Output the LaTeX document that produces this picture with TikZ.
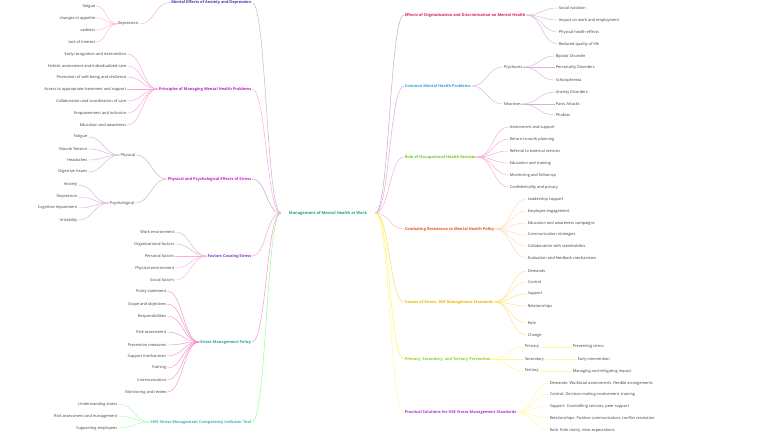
\documentclass[tikz,border=0pt]{standalone}
\usepackage{fontspec}
\setmainfont{Open Sans}
\usetikzlibrary{calc}
\def\mlink[#1](#2)(#3){\draw[wire,#1] let \p1=(#2), \p2=(#3) in (\p1) .. controls ({(\x1+\x2)/2},\y1) and ({(\x1+\x2)/2},\y2) .. (\p2);}

\definecolor{cRoot}{HTML}{1E9E84}
\definecolor{cMent}{HTML}{3A3AA6}
\definecolor{cPrin}{HTML}{B81FC4}
\definecolor{cPhys}{HTML}{C21FC2}
\definecolor{cFact}{HTML}{7A32C4}
\definecolor{cPol}{HTML}{2AA2A2}
\definecolor{cHse}{HTML}{3CB2B6}
\definecolor{cStig}{HTML}{D41C6E}
\definecolor{cCom}{HTML}{2E9FD4}
\definecolor{cOcc}{HTML}{6CC41E}
\definecolor{cRes}{HTML}{E2521E}
\definecolor{cCau}{HTML}{E6B400}
\definecolor{cPre}{HTML}{84D21C}
\definecolor{cSol}{HTML}{A834C4}

\tikzset{
	leaf/.style={font=\fontsize{3.9}{4}\selectfont, text=black!75, inner sep=0.6pt},
	lft/.style={leaf, anchor=east},
	rgt/.style={leaf, anchor=west},
	topic/.style={font=\fontsize{3.9}{4}\selectfont\bfseries, inner sep=0.6pt},
	wire/.style={line width=0.45pt},
}

\begin{document}
\begin{tikzpicture}[x=1pt,y=-1pt]
				\useasboundingbox (0,0) rectangle (768,433);
				
				\node[font=\fontsize{4}{4}\selectfont\bfseries, text=cRoot, inner xsep=8pt, inner ysep=2pt] (root) at (328,213) {Management of Mental Health at Work};
				
				% left side
				\node[topic, anchor=east, text=cMent] (ment) at (252,2.5) {Mental Effects of Anxiety and Depression};
				\node[topic, anchor=east, text=cPrin] (prin) at (252,89) {Principles of Managing Mental Health Problems};
				\node[topic, anchor=east, text=cPhys] (phys) at (252,179) {Physical and Psychological Effects of Stress};
				\node[topic, anchor=east, text=cFact] (fact) at (252,256) {Factors Causing Stress};
				\node[topic, anchor=east, text=cPol] (pol) at (252,342) {Stress Management Policy};
				\node[topic, anchor=east, text=cHse] (hse) at (252,422) {HSE Stress Management Competency Indicator Tool};
				\mlink[draw=violet!35](root.west)(ment.east)
				\mlink[draw=magenta!35](root.west)(prin.east)
				\mlink[draw=violet!40](root.west)(phys.east)
				\mlink[draw=magenta!40](root.west)(fact.east)
				\mlink[draw=magenta!45](root.west)(pol.east)
				\mlink[draw=green!45](root.west)(hse.east)
				
				\node[lft] (dep) at (139,24) {Depression};
				\mlink[draw=magenta!35](ment.west)(dep.east)
				\node[lft] (dep1) at (96,6) {fatigue};
				\node[lft] (dep2) at (96,18) {changes in appetite};
				\node[lft] (dep3) at (96,30) {sadness};
				\node[lft] (dep4) at (96,42) {lack of interest};
				\mlink[draw=magenta!30](dep.west)(dep1.east)
				\mlink[draw=magenta!30](dep.west)(dep2.east)
				\mlink[draw=magenta!30](dep.west)(dep3.east)
				\mlink[draw=magenta!30](dep.west)(dep4.east)
				
				\node[lft] (prin1) at (127,54) {Early recognition and intervention};
				\node[lft] (prin2) at (127,66) {Holistic assessment and individualized care};
				\node[lft] (prin3) at (127,77) {Promotion of well-being and resilience};
				\node[lft] (prin4) at (127,89) {Access to appropriate treatment and support};
				\node[lft] (prin5) at (127,101) {Collaboration and coordination of care};
				\node[lft] (prin6) at (127,113) {Empowerment and inclusion};
				\node[lft] (prin7) at (127,125) {Education and awareness};
				\mlink[draw=magenta!35](prin.west)(prin1.east)
				\mlink[draw=magenta!35](prin.west)(prin2.east)
				\mlink[draw=magenta!35](prin.west)(prin3.east)
				\mlink[draw=magenta!35](prin.west)(prin4.east)
				\mlink[draw=magenta!35](prin.west)(prin5.east)
				\mlink[draw=magenta!35](prin.west)(prin6.east)
				\mlink[draw=magenta!35](prin.west)(prin7.east)
				
				\node[lft] (body) at (136,155) {Physical};
				\node[lft] (mind) at (135,203) {Psychological};
				\mlink[draw=violet!35](phys.west)(body.east)
				\mlink[draw=violet!35](phys.west)(mind.east)
				\node[lft] (body1) at (88,137) {Fatigue};
				\node[lft] (body2) at (88,149) {Muscle Tension};
				\node[lft] (body3) at (88,160) {Headaches};
				\node[lft] (body4) at (88,172) {Digestive Issues};
				\node[lft] (mind1) at (78,185) {Anxiety};
				\node[lft] (mind2) at (78,197) {Depression};
				\node[lft] (mind3) at (78,208) {Cognitive Impairment};
				\node[lft] (mind4) at (78,220) {Irritability};
				\mlink[draw=violet!30](body.west)(body1.east)
				\mlink[draw=violet!30](body.west)(body2.east)
				\mlink[draw=violet!30](body.west)(body3.east)
				\mlink[draw=violet!30](body.west)(body4.east)
				\mlink[draw=violet!30](mind.west)(mind1.east)
				\mlink[draw=violet!30](mind.west)(mind2.east)
				\mlink[draw=violet!30](mind.west)(mind3.east)
				\mlink[draw=violet!30](mind.west)(mind4.east)
				
				\node[lft] (fact1) at (175,232) {Work environment};
				\node[lft] (fact2) at (175,244) {Organizational factors};
				\node[lft] (fact3) at (175,256) {Personal factors};
				\node[lft] (fact4) at (175,268) {Physical environment};
				\node[lft] (fact5) at (175,280) {Social factors};
				\mlink[draw=violet!30](fact.west)(fact1.east)
				\mlink[draw=violet!30](fact.west)(fact2.east)
				\mlink[draw=magenta!30](fact.west)(fact3.east)
				\mlink[draw=magenta!30](fact.west)(fact4.east)
				\mlink[draw=magenta!30](fact.west)(fact5.east)
				
				\node[lft] (pol1) at (167,291) {Policy statement};
				\node[lft] (pol2) at (167,304) {Scope and objectives};
				\node[lft] (pol3) at (167,316) {Responsibilities};
				\node[lft] (pol4) at (167,332) {Risk assessment};
				\node[lft] (pol5) at (167,345) {Prevention measures};
				\node[lft] (pol6) at (167,356) {Support mechanisms};
				\node[lft] (pol7) at (167,368) {Training};
				\node[lft] (pol8) at (167,380) {Communication};
				\node[lft] (pol9) at (167,392) {Monitoring and review};
				\mlink[draw=magenta!45](pol.west)(pol1.east)
				\mlink[draw=magenta!45](pol.west)(pol2.east)
				\mlink[draw=magenta!45](pol.west)(pol3.east)
				\mlink[draw=magenta!45](pol.west)(pol4.east)
				\mlink[draw=magenta!45](pol.west)(pol5.east)
				\mlink[draw=magenta!45](pol.west)(pol6.east)
				\mlink[draw=magenta!45](pol.west)(pol7.east)
				\mlink[draw=magenta!45](pol.west)(pol8.east)
				\mlink[draw=magenta!45](pol.west)(pol9.east)
				
				\node[lft] (hse1) at (118,404) {Understanding stress};
				\node[lft] (hse2) at (118,416) {Risk assessment and management};
				\node[lft] (hse3) at (118,428) {Supporting employees};
				\mlink[draw=green!35](hse.west)(hse1.east)
				\mlink[draw=green!35](hse.west)(hse2.east)
				\mlink[draw=green!35](hse.west)(hse3.east)
				
				% right side
				\node[topic, anchor=west, text=cStig] (stig) at (404,15) {Effects of Stigmatization and Discrimination on Mental Health};
				\node[topic, anchor=west, text=cCom] (com) at (404,86) {Common Mental Health Problems};
				\node[topic, anchor=west, text=cOcc] (occ) at (404,157) {Role of Occupational Health Services};
				\node[topic, anchor=west, text=cRes] (res) at (404,229) {Combating Resistance to Mental Health Policy};
				\node[topic, anchor=west, text=cCau] (cau) at (404,302) {Causes of Stress: HSE Management Standards};
				\node[topic, anchor=west, text=cPre] (pre) at (404,359) {Primary, Secondary, and Tertiary Prevention};
				\node[topic, anchor=west, text=cSol] (sol) at (404,412) {Practical Solutions for HSE Stress Management Standards};
				\mlink[draw=violet!40](root.east)(stig.west)
				\mlink[draw=violet!35](root.east)(com.west)
				\mlink[draw=magenta!35](root.east)(occ.west)
				\mlink[draw=red!30](root.east)(res.west)
				\mlink[draw=yellow!70!orange!80](root.east)(cau.west)
				\mlink[draw=yellow!80](root.east)(pre.west)
				\mlink[draw=yellow!45](root.east)(sol.west)
				
				\node[rgt] (stig1) at (558,8) {Social isolation};
				\node[rgt] (stig2) at (558,20) {Impact on work and employment};
				\node[rgt] (stig3) at (558,32) {Physical health effects};
				\node[rgt] (stig4) at (558,44) {Reduced quality of life};
				\mlink[draw=violet!30](stig.east)(stig1.west)
				\mlink[draw=violet!30](stig.east)(stig2.west)
				\mlink[draw=violet!30](stig.east)(stig3.west)
				\mlink[draw=violet!30](stig.east)(stig4.west)
				
				\node[rgt] (psy) at (503,67) {Psychoses};
				\node[rgt] (neu) at (503,104) {Neuroses};
				\mlink[draw=violet!30](com.east)(psy.west)
				\mlink[draw=violet!30](com.east)(neu.west)
				\node[rgt] (psy1) at (555,56) {Bipolar Disorder};
				\node[rgt] (psy2) at (555,67) {Personality Disorders};
				\node[rgt] (psy3) at (555,80) {Schizophrenia};
				\node[rgt] (neu1) at (555,92) {Anxiety Disorders};
				\node[rgt] (neu2) at (555,104) {Panic Attacks};
				\node[rgt] (neu3) at (555,115) {Phobias};
				\mlink[draw=violet!30](psy.east)(psy1.west)
				\mlink[draw=violet!30](psy.east)(psy2.west)
				\mlink[draw=violet!30](psy.east)(psy3.west)
				\mlink[draw=violet!30](neu.east)(neu1.west)
				\mlink[draw=violet!30](neu.east)(neu2.west)
				\mlink[draw=violet!30](neu.east)(neu3.west)
				
				\node[rgt] (occ1) at (509,127) {Assessment and support};
				\node[rgt] (occ2) at (509,139) {Return-to-work planning};
				\node[rgt] (occ3) at (509,151) {Referral to external services};
				\node[rgt] (occ4) at (509,163) {Education and training};
				\node[rgt] (occ5) at (509,175) {Monitoring and follow-up};
				\node[rgt] (occ6) at (509,187) {Confidentiality and privacy};
				\mlink[draw=magenta!35](occ.east)(occ1.west)
				\mlink[draw=magenta!35](occ.east)(occ2.west)
				\mlink[draw=magenta!35](occ.east)(occ3.west)
				\mlink[draw=magenta!35](occ.east)(occ4.west)
				\mlink[draw=magenta!35](occ.east)(occ5.west)
				\mlink[draw=magenta!35](occ.east)(occ6.west)
				
				\node[rgt] (res1) at (527,199) {Leadership support};
				\node[rgt] (res2) at (527,211) {Employee engagement};
				\node[rgt] (res3) at (527,223) {Education and awareness campaigns};
				\node[rgt] (res4) at (527,235) {Communication strategies};
				\node[rgt] (res5) at (527,246) {Collaboration with stakeholders};
				\node[rgt] (res6) at (527,258) {Evaluation and feedback mechanisms};
				\mlink[draw=orange!30](res.east)(res1.west)
				\mlink[draw=orange!30](res.east)(res2.west)
				\mlink[draw=orange!30](res.east)(res3.west)
				\mlink[draw=orange!30](res.east)(res4.west)
				\mlink[draw=orange!30](res.east)(res5.west)
				\mlink[draw=orange!30](res.east)(res6.west)
				
				\node[rgt] (cau1) at (527,271) {Demands};
				\node[rgt] (cau2) at (527,282) {Control};
				\node[rgt] (cau3) at (527,294) {Support};
				\node[rgt] (cau4) at (527,306) {Relationships};
				\node[rgt] (cau5) at (527,323) {Role};
				\node[rgt] (cau6) at (527,335) {Change};
				\mlink[draw=yellow!60!orange!50](cau.east)(cau1.west)
				\mlink[draw=yellow!60!orange!50](cau.east)(cau2.west)
				\mlink[draw=yellow!60!orange!50](cau.east)(cau3.west)
				\mlink[draw=yellow!60!orange!50](cau.east)(cau4.west)
				\mlink[draw=yellow!60!orange!50](cau.east)(cau5.west)
				\mlink[draw=yellow!60!orange!50](cau.east)(cau6.west)
				
				\node[rgt] (prim) at (524,347) {Primary};
				\node[rgt] (seco) at (524,359) {Secondary};
				\node[rgt] (tert) at (524,371) {Tertiary};
				\mlink[draw=yellow!45](pre.east)(prim.west)
				\mlink[draw=yellow!45](pre.east)(seco.west)
				\mlink[draw=yellow!45](pre.east)(tert.west)
				\node[rgt] (prim1) at (572,347) {Preventing stress};
				\node[rgt] (seco1) at (577,359) {Early intervention};
				\node[rgt] (tert1) at (572,371) {Managing and mitigating impact};
				\mlink[draw=yellow!40](prim.east)(prim1.west)
				\mlink[draw=yellow!40](seco.east)(seco1.west)
				\mlink[draw=yellow!40](tert.east)(tert1.west)
				
				\node[rgt] (sol1) at (549,383) {Demands: Workload assessments, flexible arrangements};
				\node[rgt] (sol2) at (549,394) {Control: Decision-making involvement, training};
				\node[rgt] (sol3) at (549,406) {Support: Counselling services, peer support};
				\node[rgt] (sol4) at (549,418) {Relationships: Positive communication, conflict resolution};
				\node[rgt] (sol5) at (549,430) {Role: Role clarity, clear expectations};
				\mlink[draw=yellow!40](sol.east)(sol1.west)
				\mlink[draw=yellow!40](sol.east)(sol2.west)
				\mlink[draw=yellow!40](sol.east)(sol3.west)
				\mlink[draw=yellow!40](sol.east)(sol4.west)
				\mlink[draw=yellow!40](sol.east)(sol5.west)
			\end{tikzpicture}
\end{document}
